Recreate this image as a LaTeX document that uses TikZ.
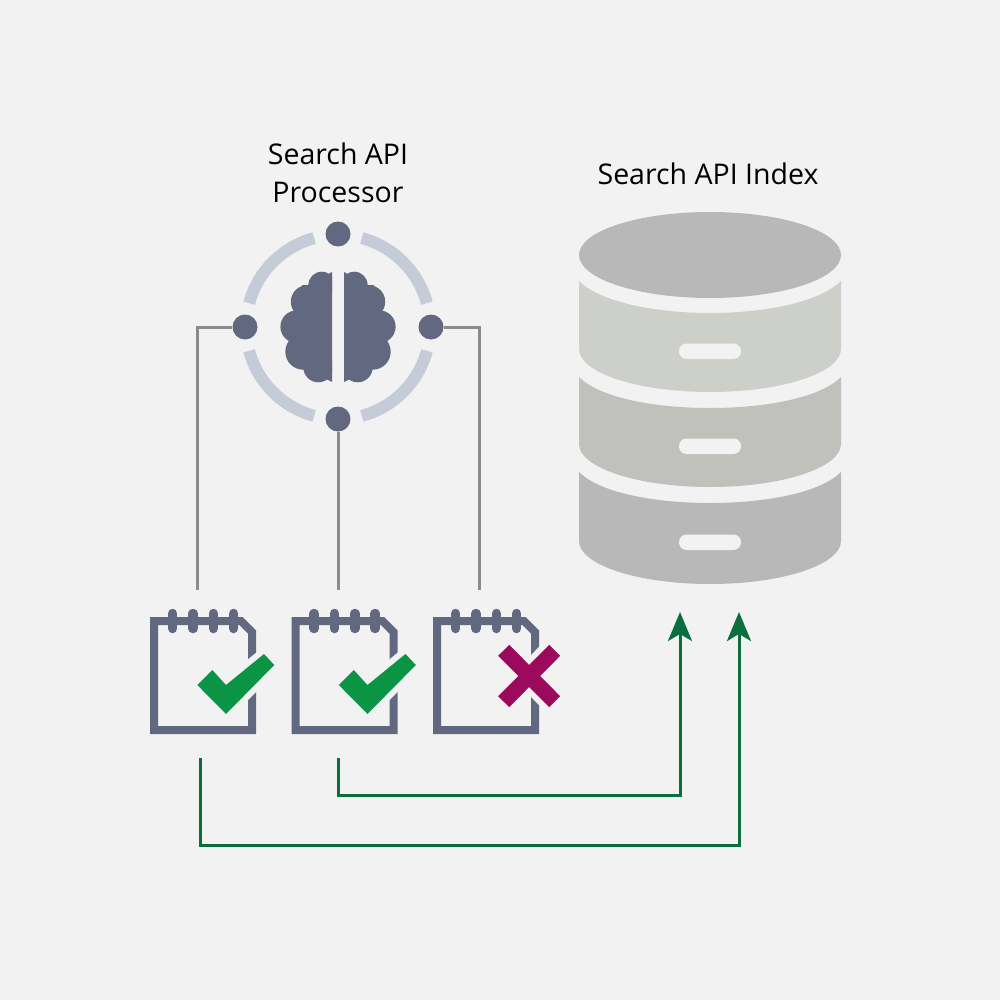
\documentclass[tikz,border=0pt]{standalone}
\usepackage{fontspec}
\setmainfont{Open Sans}
\usetikzlibrary{arrows.meta}
\definecolor{bgc}{HTML}{F2F2F2}
\definecolor{slate}{HTML}{626880}
\definecolor{ringc}{HTML}{C5CCD8}
\definecolor{wire}{HTML}{8C8C8C}
\definecolor{arrowg}{HTML}{0B6E3F}
\definecolor{checkg}{HTML}{0B9444}
\definecolor{crossc}{HTML}{9C0A5E}
\definecolor{dbtop}{HTML}{B8B8B8}
\definecolor{dbone}{HTML}{CDD0CA}
\definecolor{dbtwo}{HTML}{C0C1BD}
\tikzset{
  hub/.style={circle,fill=slate,inner sep=0pt,minimum size=25pt},
  ringarc/.style={draw=ringc,line width=12pt},
  wireline/.style={draw=wire,line width=3pt},
  flow/.style={draw=arrowg,line width=3pt,-{Stealth[length=29pt,width=24pt,inset=7pt]}},
  title/.style={font=\fontsize{28.5}{38}\selectfont,align=center,text=black,inner sep=0pt},
  padframe/.style={draw=slate,line width=8pt,miter limit=10},
  padring/.style={draw=slate,line width=9.5pt,line cap=round},
  handle/.style={fill=bgc,rounded corners=7.5pt},
}
\newcommand{\padicon}[1]{%
  \begin{scope}[shift={(#1,0)}]
    \draw[padframe] (241,621) -- (252,632) -- (252,730) -- (154,730) -- (154,621) -- cycle;
    \foreach \rx in {172.7,193,213.3,233.7}
      \draw[padring] (\rx,613.5) -- (\rx,628.5);
  \end{scope}}
\newcommand{\checkicon}[1]{%
  \begin{scope}[shift={(#1,0)}]
    \path[draw=bgc,line width=12pt,fill=bgc,line join=miter]
      (197.3,685) -- (212.3,670) -- (226,685) -- (264,654) -- (274.3,665) -- (226,714) -- cycle;
    \fill[checkg] (197.3,685) -- (212.3,670) -- (226,685) -- (264,654) -- (274.3,665) -- (226,714) -- cycle;
  \end{scope}}
\begin{document}
\begin{tikzpicture}[x=1pt,y=-1pt]
\useasboundingbox (0,0) rectangle (1000,1000);
\fill[bgc] (0,0) rectangle (1000,1000);

% titles
\node[title] (proc) at (338,173) {Search API\\Processor};
\node[title] (idx) at (708,174) {Search API Index};

% ring
\foreach \a in {15,105,195,285}
  \draw[ringarc] ({338+92*cos(\a)},{327+92*sin(\a)}) arc[start angle=\a,end angle=\a+60,radius=92];

% brain
\foreach \s in {1,-1}{
  \begin{scope}[shift={(338,0)},xscale=\s]
    \clip (6,260) rectangle (70,400);
    \fill[slate] (6,272) -- (30,285) -- (30,370) -- (6,382) -- cycle;
    \fill[slate] (16.3,285) circle[radius=13.3];
    \fill[slate] (30.7,301.7) circle[radius=16.5];
    \fill[slate] (41.3,326.7) circle[radius=16.3];
    \fill[slate] (34.7,351.7) circle[radius=18];
    \fill[slate] (19.7,367.3) circle[radius=15];
    \fill[slate] (6,285) rectangle (36,368);
  \end{scope}}

% hubs
\node[hub] (htop) at (338,234) {};
\node[hub] (hleft) at (245,327) {};
\node[hub] (hright) at (431,327) {};
\node[hub] (hbottom) at (338,419) {};

% database
\fill[dbtop] (710,255) ellipse[x radius=131,y radius=43];
\fill[dbone] (579,281) .. controls (600,302) and (655,313) .. (710,313) .. controls (765,313) and (820,302) .. (841,281) -- (841,349) arc[start angle=0,end angle=180,x radius=131,y radius=43] -- cycle;
\fill[dbtwo] (579,377) .. controls (600,398) and (655,408) .. (710,408) .. controls (765,408) and (820,398) .. (841,377) -- (841,444) arc[start angle=0,end angle=180,x radius=131,y radius=43] -- cycle;
\fill[dbtop] (579,472) .. controls (600,493) and (655,503) .. (710,503) .. controls (765,503) and (820,493) .. (841,472) -- (841,541) arc[start angle=0,end angle=180,x radius=131,y radius=43] -- cycle;
\fill[handle] (679,343.5) rectangle (741,359);
\fill[handle] (679,438.5) rectangle (741,454);
\fill[handle] (679,534.5) rectangle (741,550);

% note pads
\padicon{0}
\padicon{141.5}
\padicon{283}
\checkicon{0}
\checkicon{141.5}
\draw[bgc,line width=27pt] (503.7,650.3) -- (554.7,701.7) (554.7,650.3) -- (503.7,701.7);
\draw[crossc,line width=15.5pt] (503.7,650.3) -- (554.7,701.7) (554.7,650.3) -- (503.7,701.7);

% connector ends
\coordinate (padA) at (197,590);
\coordinate (padB) at (338,590);
\coordinate (padC) at (479,590);
\coordinate (outA) at (200,758);
\coordinate (outB) at (338,758);
\coordinate (inA) at (739,612);
\coordinate (inB) at (680,612);

\draw[wireline] (hleft) -- (197,327) -- (padA);
\draw[wireline] (hbottom) -- (padB);
\draw[wireline] (hright) -- (479,327) -- (padC);

\draw[flow] (outA) -- (200,845) -- (739,845) -- (inA);
\draw[flow] (outB) -- (338,795) -- (680,795) -- (inB);
\end{tikzpicture}
\end{document}
